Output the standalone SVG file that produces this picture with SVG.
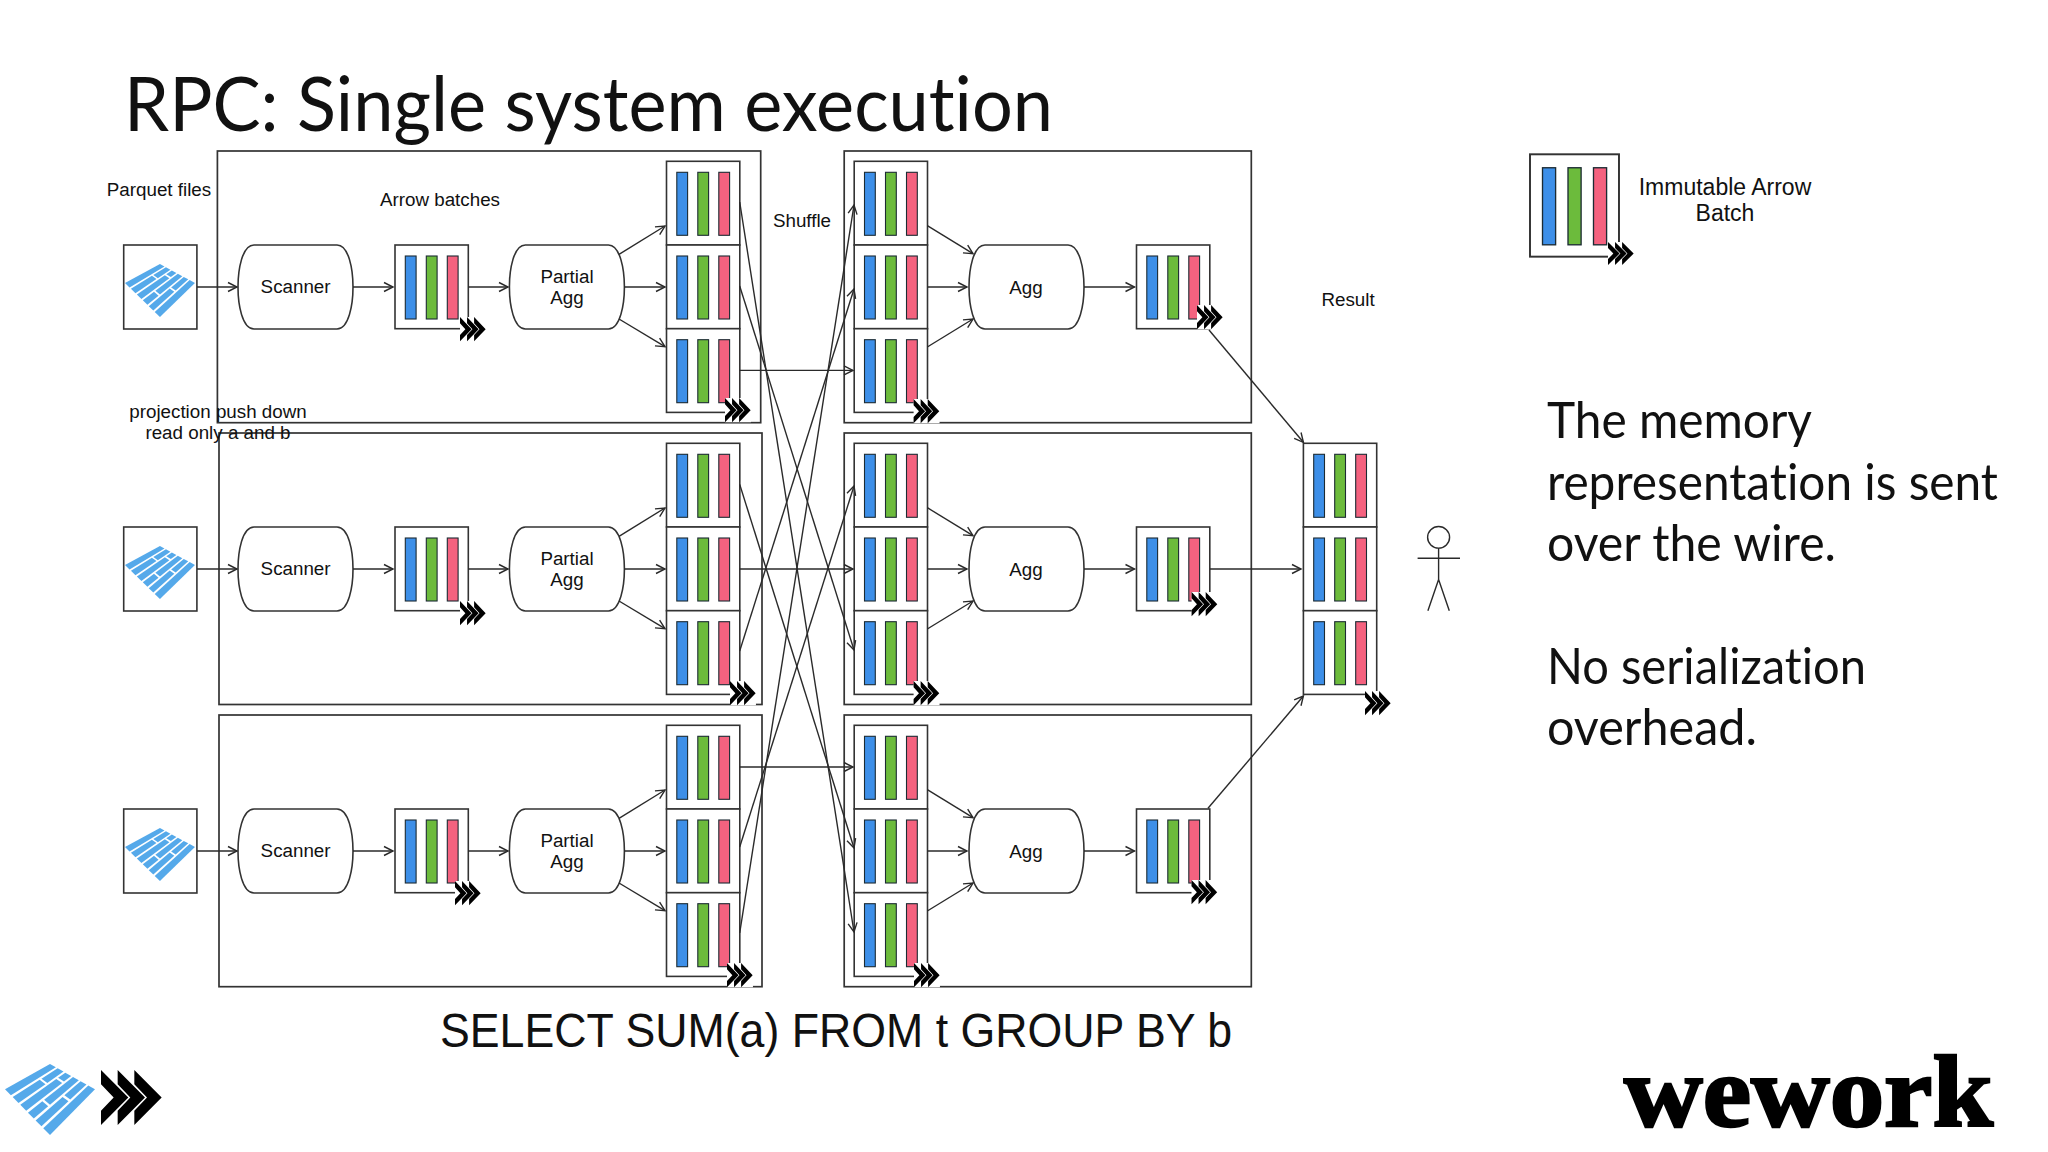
<svg xmlns="http://www.w3.org/2000/svg" width="2048" height="1152" viewBox="0 0 2048 1152">
<style>
.box{fill:#fff;stroke:#333;stroke-width:1.6}
.frame{fill:none;stroke:#333;stroke-width:1.7}
.bar{stroke:#1c2b33;stroke-width:1.1}
.b{fill:#3d8fe8}.g{fill:#6cbb3c}.r{fill:#f4627f}
.brick{fill:#55a9ea}
.lb{font:18.8px "Liberation Sans",Arial,sans-serif;fill:#111;text-anchor:middle}
.lg{font:23px "Liberation Sans",Arial,sans-serif;fill:#111;text-anchor:middle}
.big{font-family:Lato,"Open Sans",sans-serif;fill:#111;font-variant-ligatures:none}
.ln2{fill:none;stroke:#2a2a2a;stroke-width:1.4;marker-end:url(#a)}
</style>
<defs>
<marker id="a" markerUnits="userSpaceOnUse" markerWidth="14" markerHeight="14" refX="12" refY="7" orient="auto" viewBox="0 0 14 14"><path d="M3,2.5L12,7L3,11.5" fill="none" stroke="#2a2a2a" stroke-width="1.4"/></marker>
<g id="cell"><rect class="box" width="73.3" height="83.7"/><rect class="bar b" x="10.3" y="11" width="10.8" height="63"/><rect class="bar g" x="31.3" y="11" width="10.8" height="63"/><rect class="bar r" x="52.3" y="11" width="10.8" height="63"/></g>
<g id="chev"><rect x="0" y="0" width="184" height="165" fill="#fff"/><polygon points="0,0 82,82.5 0,165 0,122 38,82.5 0,43" fill="#000"/><polygon points="50,0 132,82.5 50,165 50,122 88,82.5 50,43" fill="#000"/><polygon points="100,0 182,82.5 100,165 100,122 138,82.5 100,43" fill="#000"/></g>
<path id="proc" class="box" d="M16,0H99C111,0 115,25 115,42C115,59 111,84 99,84H16C4,84 0,59 0,42C0,25 4,0 16,0Z"/>
<g id="bricks" class="brick">
<polygon points="15,148 150,72 167.6,81.9 32.6,165.8"/>
<polygon points="38,171.3 119,119.5 136.5,132.5 55.5,189.1"/>
<polygon points="124.4,116.1 173,84.9 190.5,94.8 141.9,128.8"/>
<polygon points="60.9,194.6 168.9,117.2 186.5,128.7 78.5,212.4"/>
<polygon points="174.3,113.4 195.9,97.9 213.5,107.7 191.9,124.5"/>
<polygon points="83.9,217.9 127,183.6 144.6,198.9 101.4,235.7"/>
<polygon points="132.4,179.3 219,110.8 236.4,120.7 150,194.2"/>
<polygon points="106.8,241.2 187.8,170.7 205.4,183.8 124.4,259"/>
<polygon points="193.2,166.1 241.8,123.7 259.4,133.6 210.8,178.8"/>
<polygon points="129.8,264.5 264.8,136.6 285,148 150,285"/>
</g>
</defs>
<rect width="2048" height="1152" fill="#fff"/>
<text id="title" class="big" x="124" y="131" font-size="76" textLength="929" lengthAdjust="spacingAndGlyphs">RPC: Single system execution</text>

<g id="frames">
<rect class="frame" x="217.4" y="151" width="543.3" height="271.7"/>
<rect class="frame" x="219" y="433" width="543" height="271.5"/>
<rect class="frame" x="219" y="715" width="543" height="271.7"/>
<rect class="frame" x="844.2" y="151" width="407.1" height="271.7"/>
<rect class="frame" x="844.2" y="433" width="407.1" height="271.5"/>
<rect class="frame" x="844.2" y="715" width="407.1" height="271.7"/>
</g>

<g id="parquet1"><rect class="box" x="123.7" y="245" width="73.2" height="84"/><use href="#bricks" transform="translate(121.1,246.1) scale(.259,.249)"/></g>
<g id="parquet2"><rect class="box" x="123.7" y="527" width="73.2" height="84"/><use href="#bricks" transform="translate(121.1,528.1) scale(.259,.249)"/></g>
<g id="parquet3"><rect class="box" x="123.7" y="809" width="73.2" height="84"/><use href="#bricks" transform="translate(121.1,810.1) scale(.259,.249)"/></g>

<g id="scanner1"><use href="#proc" x="238" y="245"/><text class="lb" x="295.6" y="293">Scanner</text></g>
<g id="scanner2"><use href="#proc" x="238" y="527"/><text class="lb" x="295.6" y="575">Scanner</text></g>
<g id="scanner3"><use href="#proc" x="238" y="809"/><text class="lb" x="295.6" y="857">Scanner</text></g>

<g id="batch1"><use href="#cell" x="395" y="245"/><use href="#chev" transform="translate(460,317) scale(.141,.147)"/></g>
<g id="batch2"><use href="#cell" x="395" y="527"/><use href="#chev" transform="translate(460,601) scale(.141,.147)"/></g>
<g id="batch3"><use href="#cell" x="395" y="809"/><use href="#chev" transform="translate(455,881) scale(.141,.147)"/></g>

<g id="partial1"><use href="#proc" x="509.4" y="245"/><text class="lb" x="567" y="283">Partial</text><text class="lb" x="567" y="304">Agg</text></g>
<g id="partial2"><use href="#proc" x="509.4" y="527"/><text class="lb" x="567" y="565">Partial</text><text class="lb" x="567" y="586">Agg</text></g>
<g id="partial3"><use href="#proc" x="509.4" y="809"/><text class="lb" x="567" y="847">Partial</text><text class="lb" x="567" y="868">Agg</text></g>

<g id="leftstack1"><use href="#cell" x="666.5" y="161.3"/><use href="#cell" x="666.5" y="245"/><use href="#cell" x="666.5" y="328.7"/><use href="#chev" transform="translate(725,398) scale(.141,.147)"/></g>
<g id="leftstack2"><use href="#cell" x="666.5" y="443.3"/><use href="#cell" x="666.5" y="527"/><use href="#cell" x="666.5" y="610.7"/><use href="#chev" transform="translate(730,681) scale(.141,.147)"/></g>
<g id="leftstack3"><use href="#cell" x="666.5" y="725.3"/><use href="#cell" x="666.5" y="809"/><use href="#cell" x="666.5" y="892.7"/><use href="#chev" transform="translate(727,963) scale(.141,.147)"/></g>

<g id="rightstack1"><use href="#cell" x="854.2" y="161.3"/><use href="#cell" x="854.2" y="245"/><use href="#cell" x="854.2" y="328.7"/><use href="#chev" transform="translate(913.6,399) scale(.141,.147)"/></g>
<g id="rightstack2"><use href="#cell" x="854.2" y="443.3"/><use href="#cell" x="854.2" y="527"/><use href="#cell" x="854.2" y="610.7"/><use href="#chev" transform="translate(913.6,681) scale(.141,.147)"/></g>
<g id="rightstack3"><use href="#cell" x="854.2" y="725.3"/><use href="#cell" x="854.2" y="809"/><use href="#cell" x="854.2" y="892.7"/><use href="#chev" transform="translate(914,963) scale(.141,.147)"/></g>

<g id="agg1"><use href="#proc" x="969" y="245"/><text class="lb" x="1026" y="293.5">Agg</text></g>
<g id="agg2"><use href="#proc" x="969" y="527"/><text class="lb" x="1026" y="575.5">Agg</text></g>
<g id="agg3"><use href="#proc" x="969" y="809"/><text class="lb" x="1026" y="857.5">Agg</text></g>

<g id="out1"><use href="#cell" x="1136.5" y="245"/><use href="#chev" transform="translate(1197,305) scale(.141,.147)"/></g>
<g id="out2"><use href="#cell" x="1136.5" y="527"/><use href="#chev" transform="translate(1191.6,592) scale(.141,.147)"/></g>
<g id="out3"><use href="#cell" x="1136.5" y="809"/><use href="#chev" transform="translate(1191.5,880) scale(.141,.147)"/></g>

<g id="result"><use href="#cell" x="1303.4" y="443.3"/><use href="#cell" x="1303.4" y="527"/><use href="#cell" x="1303.4" y="610.7"/><use href="#chev" transform="translate(1365,691) scale(.141,.147)"/><text class="lb" x="1348" y="306">Result</text></g>

<g id="person" fill="none" stroke="#2a2a2a" stroke-width="1.4"><ellipse cx="1438.6" cy="537.3" rx="11" ry="10.8" fill="#fff"/><path d="M1417.6,558.3H1460M1438.6,548V579.4M1438.6,579.4L1427.9,610.7M1438.6,579.4L1449.3,610.7"/></g>

<g id="connectors">
<path class="ln2" d="M197,287H237"/><path class="ln2" d="M353,287H393"/><path class="ln2" d="M468,287H508"/><path class="ln2" d="M624,287H665"/><path class="ln2" d="M619,254.3L665,226"/><path class="ln2" d="M619,319L665,346.7"/>
<path class="ln2" d="M197,569H237"/><path class="ln2" d="M353,569H393"/><path class="ln2" d="M468,569H508"/><path class="ln2" d="M624,569H665"/><path class="ln2" d="M619,536.3L665,508"/><path class="ln2" d="M619,601L665,628.7"/>
<path class="ln2" d="M197,851H237"/><path class="ln2" d="M353,851H393"/><path class="ln2" d="M468,851H508"/><path class="ln2" d="M624,851H665"/><path class="ln2" d="M619,818.3L665,790"/><path class="ln2" d="M619,883L665,910.7"/>
<path class="ln2" d="M927.3,225.7L973,253.7"/><path class="ln2" d="M927.3,287H967"/><path class="ln2" d="M927.3,347L973,319"/><path class="ln2" d="M1084,287H1134.5"/>
<path class="ln2" d="M927.3,507.7L973,535.7"/><path class="ln2" d="M927.3,569H967"/><path class="ln2" d="M927.3,629L973,601"/><path class="ln2" d="M1084,569H1134.5"/>
<path class="ln2" d="M927.3,789.7L973,817.7"/><path class="ln2" d="M927.3,851H967"/><path class="ln2" d="M927.3,911L973,883"/><path class="ln2" d="M1084,851H1134.5"/>
<path class="ln2" d="M1209,330L1303.4,442.3"/><path class="ln2" d="M1210,569H1301"/><path class="ln2" d="M1208,808.3L1303.4,696"/>
<path class="ln2" d="M739.7,370.4H853"/><path class="ln2" d="M739.7,569H853"/><path class="ln2" d="M739.7,767H853"/>
<path class="ln2" d="M739.7,202L854,932"/><path class="ln2" d="M739.7,286L854,650"/><path class="ln2" d="M739.7,484.4L854,848"/>
<path class="ln2" d="M739.7,933L854,205"/><path class="ln2" d="M739.7,651L854,289"/><path class="ln2" d="M739.7,847L854,486"/>
</g>

<g id="labels">
<text class="lb" x="159" y="196">Parquet files</text>
<text class="lb" x="440" y="206">Arrow batches</text>
<text class="lb" x="218" y="418">projection push down</text>
<text class="lb" x="218" y="439">read only a and b</text>
<text class="lb" x="802" y="227">Shuffle</text>
</g>

<g id="legend"><use href="#cell" transform="translate(1530,154.3) scale(1.214,1.223)"/><use href="#chev" transform="translate(1608,242) scale(.141,.14)"/><text class="lg" x="1725" y="195">Immutable Arrow</text><text class="lg" x="1725" y="221">Batch</text></g>

<g id="notes" font-size="50">
<text class="big" x="1547" y="437.5" textLength="265" lengthAdjust="spacingAndGlyphs">The memory</text>
<text class="big" x="1547" y="499.5" textLength="451" lengthAdjust="spacingAndGlyphs">representation is sent</text>
<text class="big" x="1547" y="560.5" textLength="289" lengthAdjust="spacingAndGlyphs">over the wire.</text>
<text class="big" x="1547" y="683.5" textLength="319" lengthAdjust="spacingAndGlyphs">No serialization</text>
<text class="big" x="1547" y="744.5" textLength="210" lengthAdjust="spacingAndGlyphs">overhead.</text>
</g>

<text id="query" x="440" y="1047" font-family="Liberation Sans,Arial,sans-serif" font-size="48" fill="#111" textLength="792" lengthAdjust="spacingAndGlyphs">SELECT SUM(a) FROM t GROUP BY b</text>

<g id="logo-left"><use href="#bricks" transform="translate(0,1040) scale(.3333)"/><use href="#chev" transform="translate(101,1070) scale(.3333)"/></g>
<text id="logo-right" x="1624" y="1126" font-family="Liberation Serif,serif" font-weight="bold" font-size="102" fill="#000" stroke="#000" stroke-width="2.5" textLength="369" lengthAdjust="spacingAndGlyphs">wework</text>
</svg>
